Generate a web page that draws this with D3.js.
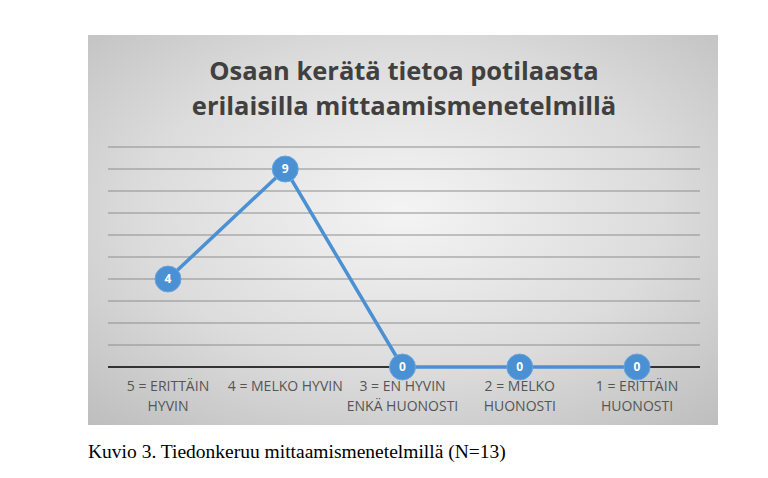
<!DOCTYPE html>
<html><head><meta charset="utf-8">
<script src="https://cdn.jsdelivr.net/npm/d3@7"></script>
<style>body{margin:0;background:#fff}</style></head>
<body><svg id="c" width="768" height="478"></svg>
<script>
const categories = [["5 = ERITTÄIN","HYVIN"],["4 = MELKO HYVIN"],["3 = EN HYVIN","ENKÄ HUONOSTI"],["2 = MELKO","HUONOSTI"],["1 = ERITTÄIN","HUONOSTI"]];
const values = [4, 9, 0, 0, 0];
const yTicks = [0,1,2,3,4,5,6,7,8,9,10];

const svg = d3.select("#c");
const defs = svg.append("defs");
const g = defs.append("radialGradient").attr("id","bg").attr("cx","50%").attr("cy","45%").attr("r","75%");
g.append("stop").attr("offset","0%").attr("stop-color","#f4f4f4");
g.append("stop").attr("offset","55%").attr("stop-color","#dcdcdc");
g.append("stop").attr("offset","100%").attr("stop-color","#bdbdbd");
svg.append("rect").attr("x",88).attr("y",35).attr("width",630).attr("height",390).attr("fill","url(#bg)");

const tt = svg.append("g").attr("font-family","Open Sans, sans-serif").attr("font-weight","bold").attr("font-size",25.5).attr("fill","#404040").attr("text-anchor","middle");
tt.append("text").attr("x",404).attr("y",80).text("Osaan kerätä tietoa potilaasta");
tt.append("text").attr("x",404).attr("y",115).text("erilaisilla mittaamismenetelmillä");

const x = d3.scalePoint().domain(d3.range(categories.length)).range([168,637]);
const y = d3.scaleLinear().domain([0,10]).range([367,147]);

svg.append("g").selectAll("line").data(yTicks.slice(1)).join("line")
  .attr("x1",108).attr("x2",700).attr("y1",d=>y(d)).attr("y2",d=>y(d))
  .attr("stroke","#8e8e8e").attr("stroke-width",1.2);
svg.append("line").attr("x1",108).attr("x2",700).attr("y1",y(0)).attr("y2",y(0)).attr("stroke","#333").attr("stroke-width",2);

const lbl = svg.append("g").attr("font-family","Open Sans, sans-serif").attr("font-size",14).attr("fill","#555");
categories.forEach((c,i)=>{
  c.forEach((t,j)=>lbl.append("text").attr("x",x(i)).attr("y",391+j*20).attr("text-anchor","middle").text(t));
});

svg.append("path").datum(values).attr("fill","none").attr("stroke","#4a90d2").attr("stroke-width",3.5)
  .attr("d",d3.line().x((d,i)=>x(i)).y(d=>y(d)));
const pts = svg.append("g").selectAll("g").data(values).join("g").attr("transform",(d,i)=>`translate(${x(i)},${y(d)})`);
pts.append("circle").attr("r",13).attr("fill","#4a90d2").attr("stroke","#6aa6de").attr("stroke-width",1);
pts.append("text").attr("text-anchor","middle").attr("dy","0.35em").attr("font-family","Open Sans, sans-serif")
  .attr("font-weight","bold").attr("font-size",12).attr("fill","#fff").text(d=>d);

svg.append("text").attr("x",88).attr("y",458).attr("font-family","Liberation Serif, serif").attr("font-size",19.5).attr("fill","#000")
  .text("Kuvio 3. Tiedonkeruu mittaamismenetelmillä (N=13)");
</script></body></html>
